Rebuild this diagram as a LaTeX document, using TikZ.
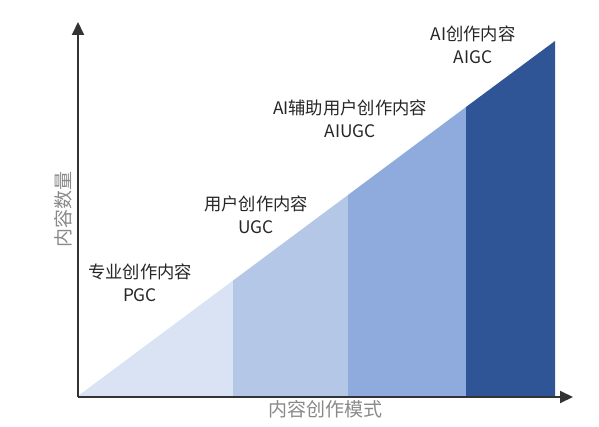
\documentclass[tikz,border=0pt]{standalone}
\usepackage{fontspec}
\setmainfont{Noto Sans CJK SC}
\usetikzlibrary{arrows.meta}
\definecolor{segA}{HTML}{DAE3F3}
\definecolor{segB}{HTML}{B4C7E7}
\definecolor{segC}{HTML}{8FAADC}
\definecolor{segD}{HTML}{2F5597}
\definecolor{axisgray}{HTML}{333333}
\definecolor{labgray}{HTML}{8A8A8A}
\definecolor{txt}{HTML}{262626}
\begin{document}
\begin{tikzpicture}[x=1pt,y=-1pt,
  axisline/.style={draw=axisgray,line width=1.9pt,-{Triangle[length=13pt,width=12pt]}},
  lab/.style={text=txt,font=\fontsize{17.3}{21}\selectfont,inner sep=0pt,align=center},
  axlab/.style={text=labgray,font=\fontsize{19}{22}\selectfont,inner sep=0pt}]
\useasboundingbox (0,0) rectangle (599,427);
\fill[white] (0,0) rectangle (599,427);
% segments
\fill[segA] (78,396) -- (233,280.6) -- (233,396) -- cycle;
\fill[segB] (233,396) -- (233,280.6) -- (348,195) -- (348,396) -- cycle;
\fill[segC] (348,396) -- (348,195) -- (466,107) -- (466,396) -- cycle;
\fill[segD] (466,396) -- (466,107) -- (555,41) -- (555,396) -- cycle;
% axes
\coordinate (ytip) at (78,22);
\coordinate (xtip) at (573,397);
\coordinate (org) at (78,397);
\draw[axisline] (org) -- (ytip);
\draw[axisline] (org) -- (xtip);
% labels
\node[lab] (pgc) at (140,283) {专业创作内容\\[2pt]PGC};
\node[lab] (ugc) at (256,215) {用户创作内容\\[2pt]UGC};
\node[lab] (aiugc) at (350,119) {AI辅助用户创作内容\\[2pt]AIUGC};
\node[lab] (aigc) at (473,45) {AI创作内容\\[2pt]AIGC};
\node[axlab,rotate=90] (ylab) at (63,210) {内容数量};
\node[axlab] (xlab) at (325,409) {内容创作模式};
\end{tikzpicture}
\end{document}
